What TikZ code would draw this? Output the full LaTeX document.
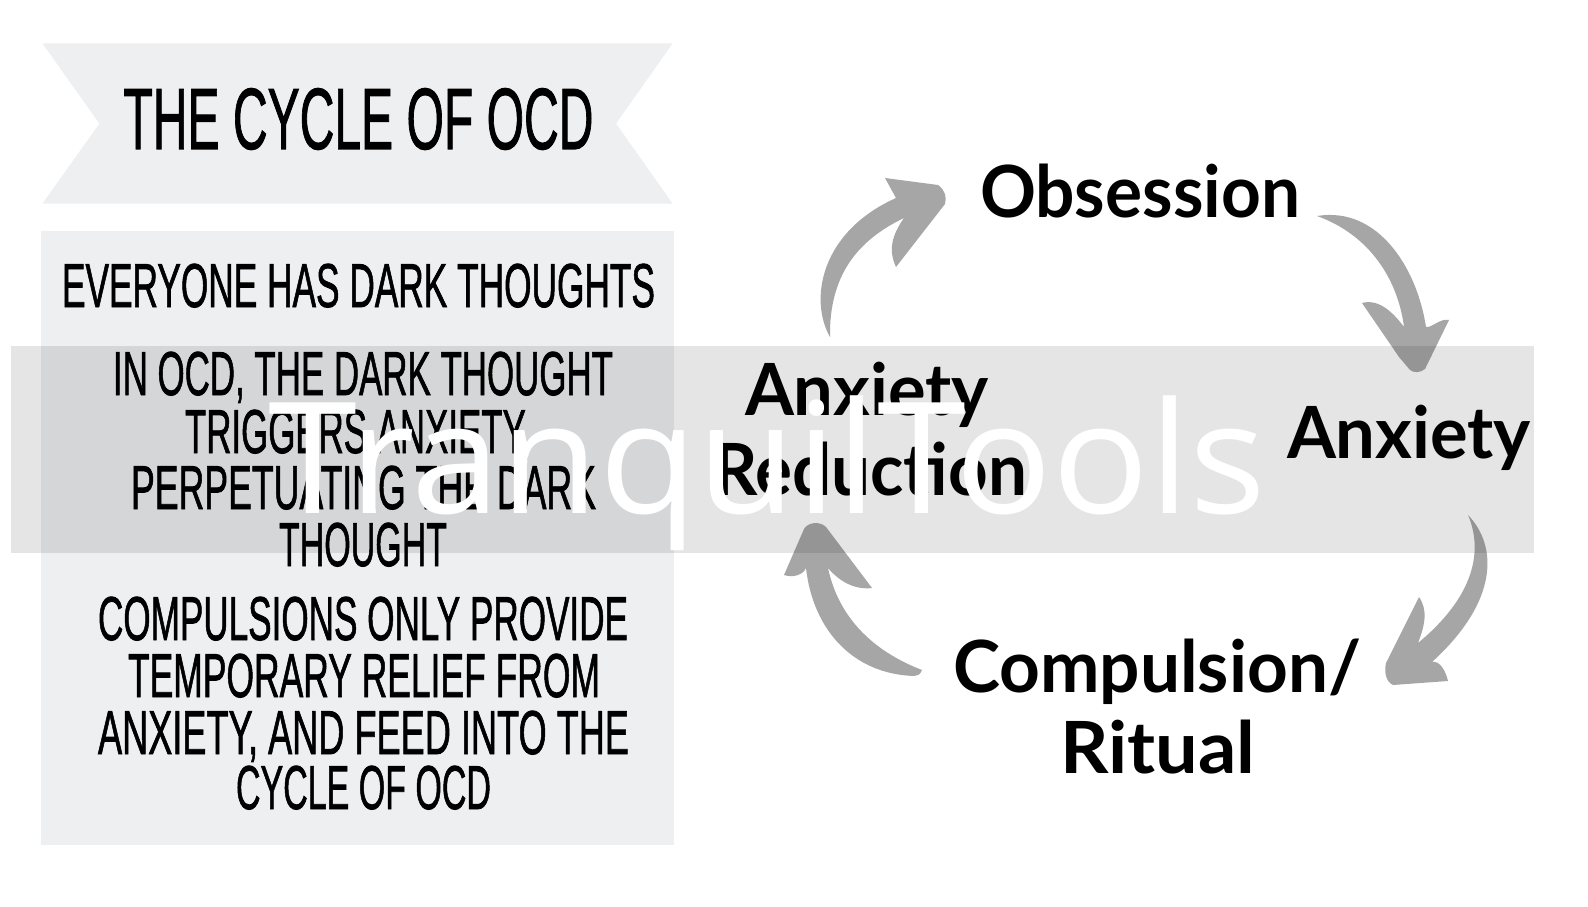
\documentclass[tikz,border=0pt]{standalone}
\usepackage{fontspec}
\usepackage{graphicx}
\setmainfont{Liberation Sans}
\newfontfamily\condfont[FakeBold=1.4]{Liberation Sans}
\newfontfamily\lblfont{Lato}
\newfontfamily\wmfont{Open Sans}
\newcommand{\fitw}[2]{\resizebox{#1pt}{\height}{#2}}
\definecolor{panel}{HTML}{EEEFF1}
\definecolor{arrowgrey}{HTML}{A6A6A6}
\tikzset{
  x=1pt,y=-1pt,
  condtext/.style={anchor=base west,inner sep=0pt,outer sep=0pt,text=black,font=\condfont\fontsize{62}{62}\selectfont},
  titletext/.style={condtext,font=\condfont\fontsize{87}{87}\selectfont},
  cyclelabel/.style={anchor=base west,inner sep=0pt,outer sep=0pt,text=black,font=\lblfont\bfseries\fontsize{72}{72}\selectfont},
  blockarrow/.style={fill=arrowgrey,draw=none},
}
\begin{document}
\begin{tikzpicture}
\useasboundingbox (0,0) rectangle (1588,907);
\fill[white] (0,0) rectangle (1588,907);
% banner and panel
\fill[panel] (42.5,43.5) -- (672.5,43.5) -- (616,123.6) -- (672.5,203.5) -- (42.5,203.5) -- (99.5,123.6) -- cycle;
\fill[panel] (41,231) rectangle (674,845);
% left text
\node[titletext] (title) at (123.5,149) {\fitw{470}{THE CYCLE OF OCD}};
\node[condtext] (l1) at (62,307) {\fitw{593}{EVERYONE HAS DARK THOUGHTS}};
\node[condtext] (l2) at (113,395) {\fitw{500}{IN OCD, THE DARK THOUGHT}};
\node[condtext] (l3) at (185,453) {\fitw{346}{TRIGGERS ANXIETY,}};
\node[condtext] (l4) at (131,509) {\fitw{465}{PERPETUATING THE DARK}};
\node[condtext] (l5) at (279,566) {\fitw{168}{THOUGHT}};
\node[condtext] (l6) at (98,640) {\fitw{530}{COMPULSIONS ONLY PROVIDE}};
\node[condtext] (l7) at (128,697) {\fitw{472}{TEMPORARY RELIEF FROM}};
\node[condtext] (l8) at (98,754) {\fitw{531}{ANXIETY, AND FEED INTO THE}};
\node[condtext] (l9) at (236,809) {\fitw{255}{CYCLE OF OCD}};
% arrows
\fill[blockarrow] (830,337) .. controls (809,300) and (820,232) .. (896,198)
  -- (885,178) -- (938,185) .. controls (945,190) and (947,197) .. (945,204)
  -- (896,267) .. controls (888,250) and (892,235) .. (904,218)
  .. controls (858,240) and (829,275) .. (830,337) -- cycle;
\fill[blockarrow] (1317,216) .. controls (1378,206) and (1417,268) .. (1426,327)
  .. controls (1432,328) and (1440,318) .. (1449,320) -- (1425,369)
  .. controls (1420,373) and (1414,373) .. (1410,370) -- (1399,357)
  -- (1362,303) .. controls (1380,298) and (1395,315) .. (1404,327)
  .. controls (1398,280) and (1370,235) .. (1317,216) -- cycle;
\fill[blockarrow] (1468,515) .. controls (1497,545) and (1500,600) .. (1432,662)
  .. controls (1440,660) and (1446,672) .. (1448,681) -- (1393,685)
  .. controls (1386,682) and (1384,672) .. (1386,663)
  -- (1419,597) .. controls (1428,610) and (1425,625) .. (1418,643)
  .. controls (1470,600) and (1485,555) .. (1468,515) -- cycle;
\fill[blockarrow] (922,670) .. controls (920,675) and (917,676) .. (914,676)
  .. controls (853,674) and (813,630) .. (806,568)
  .. controls (803,575) and (793,578) .. (784,575) -- (804,529)
  .. controls (808,522) and (820,521) .. (826,527)
  -- (872,588) .. controls (855,590) and (840,582) .. (828,568)
  .. controls (838,615) and (870,650) .. (922,670) -- cycle;
% cycle labels
\node[cyclelabel] (obs) at (980,217) {\fitw{320}{Obsession}};
\node[cyclelabel] (anx) at (1287,458) {\fitw{244}{Anxiety}};
\node[cyclelabel] (red1) at (745,415) {\fitw{244}{Anxiety}};
\node[cyclelabel] (red2) at (713,495) {\fitw{314}{Reduction}};
\node[cyclelabel] (comp) at (953,692) {\fitw{408}{Compulsion/}};
\node[cyclelabel] (rit) at (1060,773) {\fitw{195}{Ritual}};
% watermark band
\fill[black,opacity=0.1] (11,346) rectangle (1534,553);
\node[anchor=base west,inner sep=0pt,text=white,font=\wmfont\fontsize{155}{155}\selectfont] (wm) at (268,513) {\fitw{998}{TranquilTools}};
\end{tikzpicture}
\end{document}
